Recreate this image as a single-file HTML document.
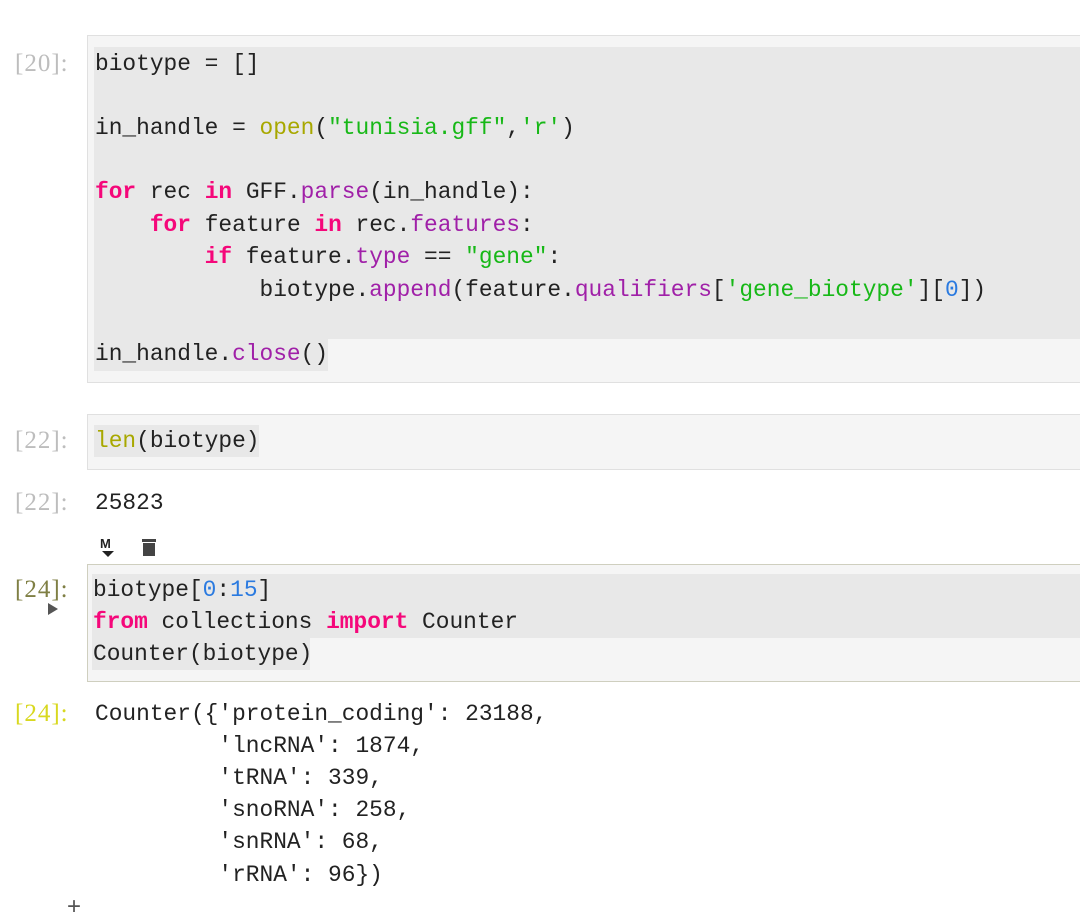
<!DOCTYPE html>
<html><head><meta charset="utf-8"><style>
body{margin:0;width:1080px;height:920px;background:#fff;position:relative;overflow:hidden;font-family:"Liberation Mono",monospace;}
.box{position:absolute;left:87px;right:-2px;background:#f5f5f5;border:1px solid #e0e0e0;}
.hl{position:absolute;background:#e8e8e8;}
.l{position:absolute;font-size:22.85px;line-height:32px;height:32px;white-space:pre;color:#222;}
.p{position:absolute;font-family:"Liberation Serif",serif;font-size:25px;letter-spacing:1px;line-height:32px;color:#bdbdbd;white-space:pre;}
.k{color:#f5077a;font-weight:bold}.s{color:#17b817}.b{color:#a8a800}.m{color:#a020a8}.n{color:#2a7ae0}
</style></head><body>
<div class="box" style="top:35px;height:346px;"></div>
<div class="hl" style="left:94px;right:0;top:47px;height:292px;"></div>
<div class="hl" style="left:94px;width:234px;top:339px;height:32px;"></div>
<div class="p" style="left:15px;top:48px;">[20]:</div>
<div class="l" style="left:95px;top:48px;">biotype = []</div>
<div class="l" style="left:95px;top:112px;">in_handle = <span class="b">open</span>(<span class="s">"tunisia.gff"</span>,<span class="s">'r'</span>)</div>
<div class="l" style="left:95px;top:176px;"><span class="k">for</span> rec <span class="k">in</span> GFF.<span class="m">parse</span>(in_handle):</div>
<div class="l" style="left:95px;top:209px;">    <span class="k">for</span> feature <span class="k">in</span> rec.<span class="m">features</span>:</div>
<div class="l" style="left:95px;top:241px;">        <span class="k">if</span> feature.<span class="m">type</span> == <span class="s">"gene"</span>:</div>
<div class="l" style="left:95px;top:274px;">            biotype.<span class="m">append</span>(feature.<span class="m">qualifiers</span>[<span class="s">'gene_biotype'</span>][<span class="n">0</span>])</div>
<div class="l" style="left:95px;top:338px;">in_handle.<span class="m">close</span>()</div>

<div class="box" style="top:414px;height:54px;"></div>
<div class="hl" style="left:94px;width:165px;top:425px;height:32px;"></div>
<div class="p" style="left:15px;top:425px;">[22]:</div>
<div class="l" style="left:95px;top:425px;"><span class="b">len</span>(biotype)</div>

<div class="p" style="left:15px;top:487px;">[22]:</div>
<div class="l" style="left:95px;top:487px;">25823</div>

<div style="position:absolute;left:100px;top:536px;font:bold 13px 'Liberation Sans',sans-serif;color:#222;">M</div>
<div style="position:absolute;left:102px;top:551px;width:0;height:0;border-left:6px solid transparent;border-right:6px solid transparent;border-top:6px solid #222;"></div>
<div style="position:absolute;left:142px;top:539px;width:14px;height:3px;background:#444;"></div>
<div style="position:absolute;left:143px;top:543px;width:12px;height:13px;background:#444;"></div>

<div class="box" style="top:564px;height:116px;border-color:#cfcfbf;"></div>
<div class="hl" style="left:92px;right:0;top:574px;height:64px;"></div>
<div class="hl" style="left:92px;width:218px;top:638px;height:32px;"></div>
<div class="p" style="left:15px;top:574px;color:#7f7f44;">[24]:</div>
<div style="position:absolute;left:48px;top:603px;width:0;height:0;border-top:6px solid transparent;border-bottom:6px solid transparent;border-left:10px solid #555;"></div>
<div class="l" style="left:93px;top:574px;">biotype[<span class="n">0</span>:<span class="n">15</span>]</div>
<div class="l" style="left:93px;top:606px;"><span class="k">from</span> collections <span class="k">import</span> Counter</div>
<div class="l" style="left:93px;top:638px;">Counter(biotype)</div>

<div class="p" style="left:15px;top:698px;color:#d8d820;">[24]:</div>
<div class="l" style="left:95px;top:698px;">Counter({'protein_coding': 23188,</div>
<div class="l" style="left:95px;top:730px;">         'lncRNA': 1874,</div>
<div class="l" style="left:95px;top:762px;">         'tRNA': 339,</div>
<div class="l" style="left:95px;top:794px;">         'snoRNA': 258,</div>
<div class="l" style="left:95px;top:826px;">         'snRNA': 68,</div>
<div class="l" style="left:95px;top:859px;">         'rRNA': 96})</div>
<div style="position:absolute;left:67px;top:893px;font:24px 'Liberation Sans',sans-serif;color:#555;">+</div>
</body></html>
